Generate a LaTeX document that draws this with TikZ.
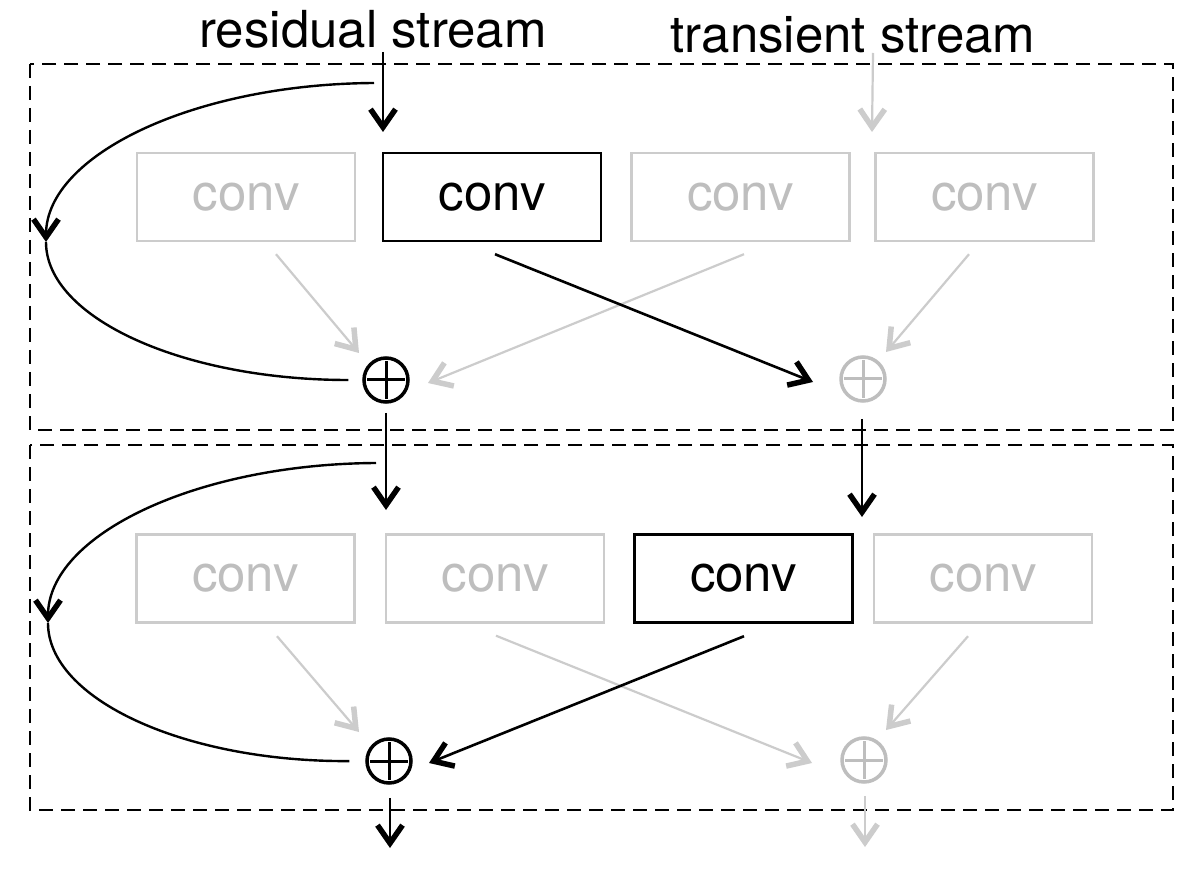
\documentclass[tikz,border=0pt]{standalone}
\usepackage{fontspec}
\setmainfont{TeX Gyre Heros}
\usetikzlibrary{arrows.meta,calc}
\definecolor{lgray}{RGB}{204,204,204}
\definecolor{tgray}{RGB}{190,190,190}
\definecolor{cgray}{RGB}{190,190,190}
\tikzset{
  convb/.style={draw=black,line width=2.4pt,minimum width=218pt,minimum height=88pt,inner sep=0pt,text=black,font=\fontsize{51}{60}\selectfont},
  convg/.style={draw=lgray,line width=2.4pt,minimum width=218pt,minimum height=88pt,inner sep=0pt,text=tgray,font=\fontsize{51}{60}\selectfont},
  plusb/.style={circle,draw=black,line width=3.5pt,minimum size=44pt,inner sep=0pt,
    path picture={\draw[black,line width=3pt,shorten <=3pt,shorten >=3pt] (path picture bounding box.north) -- (path picture bounding box.south); \draw[black,line width=3pt,shorten <=3pt,shorten >=3pt] (path picture bounding box.west) -- (path picture bounding box.east);}},
  plusg/.style={circle,draw=cgray,line width=3.5pt,minimum size=44pt,inner sep=0pt,
    path picture={\draw[cgray,line width=3pt,shorten <=3pt,shorten >=3pt] (path picture bounding box.north) -- (path picture bounding box.south); \draw[cgray,line width=3pt,shorten <=3pt,shorten >=3pt] (path picture bounding box.west) -- (path picture bounding box.east);}},
  lbl/.style={font=\fontsize{51}{60}\selectfont,inner sep=0pt,anchor=base},
  btip/.style={-{Straight Barb[length=18pt,width=25pt,line width=5.5pt]}},
  barrow/.style={draw=black,line width=2.6pt,btip},
  garrow/.style={draw=lgray,line width=2.2pt,btip},
  bline/.style={draw=black,line width=2.4pt},
  dashbox/.style={draw=black,line width=2.3pt,dash pattern=on 14pt off 8pt},
}
\begin{document}
\begin{tikzpicture}[x=1pt,y=-1pt]
\useasboundingbox[fill=white] (0,0) rectangle (1202,874);
% dashed blocks
\draw[dashbox] (30,64) rectangle (1173,430);
\draw[dashbox] (30,445) rectangle (1173,810);
% labels
\node[lbl] (rs) at (373,48) {residual stream};
\node[lbl] (ts) at (853,53) {transient stream};
% top row
\node[convg] (t1) at (246,197) {conv};
\node[convb] (t2) at (492,197) {conv};
\node[convg] (t3) at (740.5,197) {conv};
\node[convg] (t4) at (984.5,197) {conv};
\node[plusb] (p1) at (386,380) {};
\node[plusg] (p2) at (863,379) {};
% bottom row
\node[convg] (u1) at (245.5,578.5) {conv};
\node[convg] (u2) at (495,578.5) {conv};
\node[convb] (u3) at (743.5,578.5) {conv};
\node[convg] (u4) at (983,578.5) {conv};
\node[plusb] (q1) at (389,761) {};
\node[plusg] (q2) at (864,760) {};
% inputs
\coordinate (rsA) at (383,52);
\coordinate (rsB) at (383,132);
\draw[barrow] (rsA) -- (rsB);
\coordinate (tsA) at (873,53);
\coordinate (tsB) at (872,132);
\draw[garrow] (tsA) -- (tsB);
% top skip curve
\coordinate (cA) at (374,83);
\coordinate (cM) at (46,242);
\draw[bline,btip] (cA) .. controls (194,84) and (46,155) .. (cM);
\draw[bline,shorten >=14pt] (cM) .. controls (46,318) and (183,380) .. (p1.west);
% top connections
\draw[garrow] ($(t1.south)+(30,12)$) -- ($(p1)+(-27,-27)$);
\draw[garrow] ($(t3.south)+(3.5,12)$) -- ($(p1)+(42,3)$);
\draw[garrow] ($(t4.south)+(-15.5,12)$) -- ($(p2)+(23,-27)$);
\draw[barrow] ($(t2.south)+(3,12)$) -- ($(p2)+(-50,3)$);
% between blocks
\draw[barrow] ($(p1.south)+(0,9)$) -- ($(p1)+(0,130)$);
\draw[barrow] ($(p2.south)+(-1,16)$) -- ($(p2)+(-1,138)$);
% bottom skip curve
\coordinate (dA) at (376,463);
\coordinate (dM) at (48,623);
\draw[bline,btip] (dA) .. controls (196,464) and (48,535) .. (dM);
\draw[bline,shorten >=16pt] (dM) .. controls (48,699) and (184,762) .. (q1.west);
% bottom connections
\draw[garrow] ($(u1.south)+(31.5,12.5)$) -- ($(q1)+(-30,-29)$);
\draw[garrow] ($(u2.south)+(1,12)$) -- ($(q2)+(-52,3)$);
\draw[garrow] ($(u4.south)+(-15,12.5)$) -- ($(q2)+(22,-30)$);
\draw[barrow] ($(u3.south)+(0.5,12.5)$) -- ($(q1)+(40,2)$);
% outputs
\draw[barrow] ($(q1.south)+(1,13)$) -- ($(q1)+(1,87)$);
\draw[garrow] ($(q2.south)+(1,12)$) -- ($(q2)+(1,87)$);
\end{tikzpicture}
\end{document}
